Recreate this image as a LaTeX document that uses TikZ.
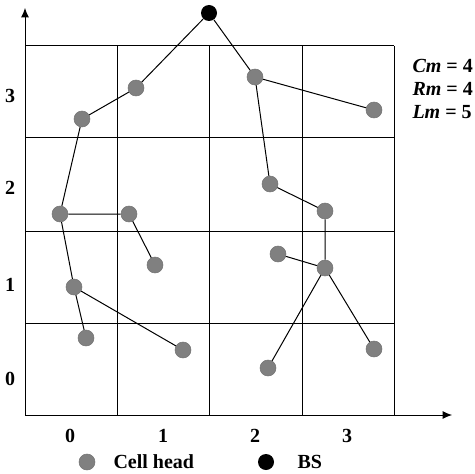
\documentclass[tikz,border=0pt]{standalone}
\usepackage{fontspec}
\setmainfont{Liberation Serif}
\usetikzlibrary{arrows.meta}
\begin{document}
\begin{tikzpicture}[x=0.75pt,y=-0.75pt,line width=0.75pt,
        head/.style={circle,fill=gray,draw=black!55,line width=0.4pt,minimum size=12pt,inner sep=0pt},
        bs/.style={circle,fill=black,minimum size=12pt,inner sep=0pt},
        lbl/.style={font=\fontsize{15}{17.5}\selectfont\bfseries,inner sep=0pt}]
        \useasboundingbox (0,0) rectangle (474,474);
        % axes and grid
        \coordinate (o) at (25,415);
        \coordinate (xend) at (452,415);
        \coordinate (yend) at (25,8);
        \draw[-{Latex[length=7pt,width=6pt]}] (o) -- (xend);
        \draw[-{Latex[length=7pt,width=6pt]}] (o) -- (yend);
        \foreach \x in {117,209,302,394} \draw (\x,46) -- (\x,415);
        \foreach \y in {46,138,231,323} \draw (25,\y) -- (394,\y);
        % axis labels
        \path (10,96) node[lbl] {3} (10,188) node[lbl] {2} (10,285) node[lbl] {1} (10,379) node[lbl] {0};
        \path (70,436) node[lbl] {0} (163,436) node[lbl] {1} (255,436) node[lbl] {2} (347,436) node[lbl] {3};
        % nodes
        \node[bs] (bs) at (209,13) {};
        \node[head] (a) at (136,88) {};
        \node[head] (b) at (82,119) {};
        \node[head] (c) at (60,214) {};
        \node[head] (d) at (129,214) {};
        \node[head] (e) at (155,265) {};
        \node[head] (f) at (74,287) {};
        \node[head] (g) at (86,338) {};
        \node[head] (h) at (183,350) {};
        \node[head] (i) at (255,77) {};
        \node[head] (j) at (374,110) {};
        \node[head] (k) at (270,184) {};
        \node[head] (l) at (325,211) {};
        \node[head] (m) at (278,254) {};
        \node[head] (n) at (325,268) {};
        \node[head] (p) at (268,368) {};
        \node[head] (q) at (374,349) {};
        % links
        \draw (bs) -- (a) -- (b) -- (c) -- (d) -- (e);
        \draw (c) -- (f) -- (g);
        \draw (f) -- (h);
        \draw (bs) -- (i) -- (j);
        \draw (i) -- (k) -- (l) -- (n) -- (p);
        \draw (m) -- (n) -- (q);
        % parameters
        \node[lbl,anchor=west,align=left] (par) at (412,89) {\textit{Cm} = 4\\\textit{Rm} = 4\\\textit{Lm} = 5};
        % legend
        \node[head] (lhead) at (87,462) {};
        \node[lbl,anchor=west] (thead) at (113,462) {Cell head};
        \node[bs] (lbs) at (266,462) {};
        \node[lbl,anchor=west] (tbs) at (297,462) {BS};
\end{tikzpicture}
\end{document}
